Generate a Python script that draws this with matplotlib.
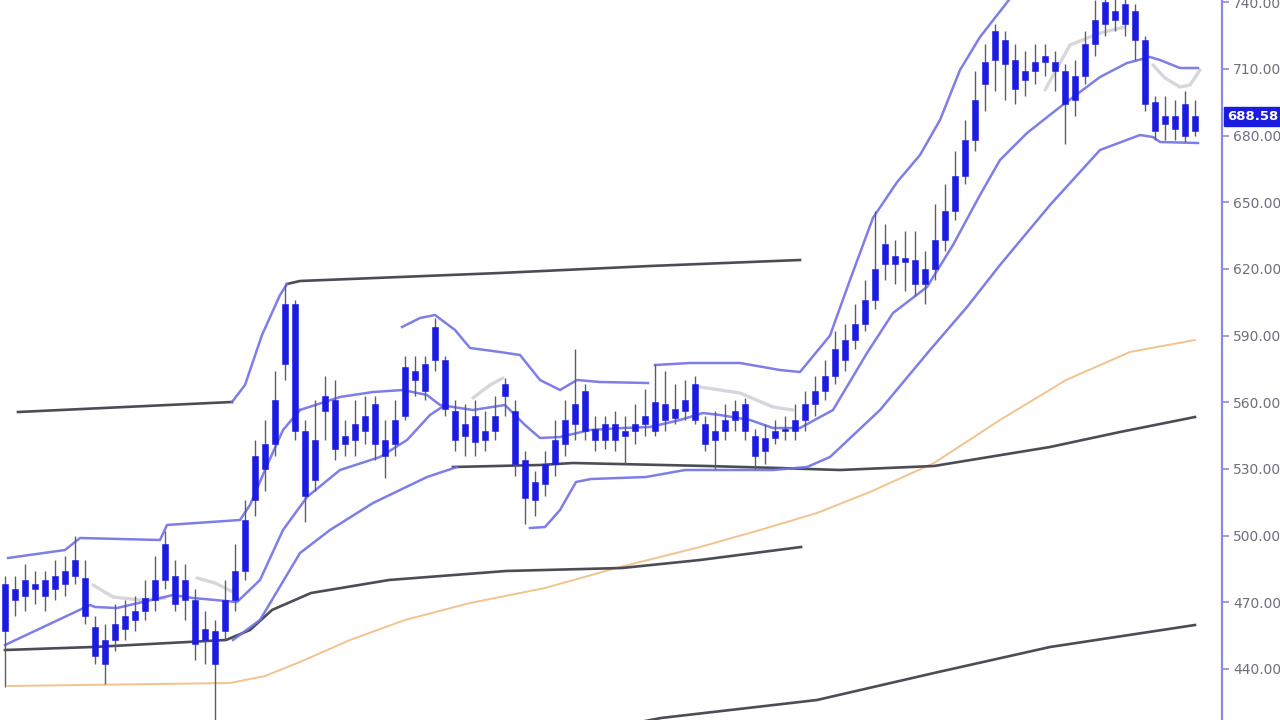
import matplotlib
matplotlib.use("Agg")
import matplotlib.pyplot as plt
from matplotlib.transforms import blended_transform_factory

# ---- candles (one per bar index) ----
opens = [478, 471, 473, 476, 473, 476, 478, 489, 481, 459,
         453, 453, 458, 462, 466, 471, 480, 482, 480, 471,
         453, 442, 457, 471, 484, 516, 530, 541, 577, 604,
         547, 525, 556, 561, 541, 543, 547, 559, 543, 541,
         554, 570, 577, 579, 579, 556, 545, 554, 543, 547,
         563, 556, 534, 516, 523, 532, 541, 550, 565, 548,
         543, 550, 545, 547, 550, 547, 559, 553, 556, 568,
         550, 543, 547, 552, 559, 545, 538, 544, 547, 547,
         552, 559, 565, 584, 579, 588, 595, 606, 631, 622,
         625, 624, 613, 620, 633, 646, 662, 678, 703, 714,
         723, 714, 705, 709, 716, 713, 709, 696, 707, 721,
         730, 736, 739, 736, 723, 695, 685, 689, 694, 682]
highs = [482, 482, 487, 484, 484, 489, 491, 500, 489, 464,
         460, 469, 471, 473, 480, 491, 502, 489, 487, 476,
         466, 462, 480, 496, 516, 543, 552, 574, 613, 606,
         552, 561, 572, 570, 552, 561, 563, 563, 552, 561,
         581, 581, 581, 598, 581, 561, 559, 561, 556, 563,
         571, 561, 538, 529, 538, 552, 561, 584, 568, 554,
         554, 556, 554, 559, 566, 577, 574, 568, 570, 572,
         554, 556, 559, 561, 562, 548, 550, 552, 554, 559,
         565, 572, 579, 592, 595, 604, 615, 646, 640, 633,
         637, 637, 628, 649, 658, 673, 687, 709, 721, 730,
         727, 721, 718, 721, 721, 718, 712, 714, 727, 741,
         745, 745, 743, 739, 725, 698, 698, 696, 700, 696]
lows = [432, 464, 466, 469, 466, 471, 473, 478, 460, 442,
        433, 448, 453, 457, 462, 466, 476, 466, 462, 444,
        442, 412, 453, 466, 480, 509, 520, 536, 570, 543,
        506, 520, 543, 534, 536, 536, 541, 534, 526, 536,
        552, 563, 561, 574, 554, 538, 536, 536, 538, 543,
        554, 527, 505, 509, 518, 527, 536, 543, 543, 538,
        539, 538, 532, 541, 545, 545, 547, 550, 552, 550,
        538, 530, 543, 547, 543, 530, 532, 541, 543, 543,
        547, 554, 561, 568, 574, 584, 592, 602, 615, 613,
        610, 608, 604, 615, 628, 642, 658, 673, 691, 700,
        696, 694, 698, 703, 707, 700, 676, 689, 703, 716,
        725, 727, 725, 714, 691, 678, 678, 678, 677, 680]
closes = [457, 476, 480, 478, 480, 482, 484, 482, 464, 446,
          442, 460, 464, 466, 472, 480, 496, 469, 471, 451,
          458, 457, 471, 484, 507, 536, 541, 561, 604, 547,
          518, 543, 563, 539, 545, 550, 554, 541, 536, 552,
          576, 574, 565, 594, 557, 543, 550, 542, 547, 554,
          568, 532, 517, 524, 532, 543, 552, 559, 547, 543,
          550, 543, 547, 550, 554, 560, 552, 557, 561, 552,
          541, 547, 552, 556, 547, 536, 544, 547, 548, 552,
          559, 565, 572, 572, 588, 595, 606, 620, 622, 626,
          623, 613, 620, 633, 646, 662, 678, 696, 713, 727,
          712, 701, 709, 713, 713, 709, 694, 707, 721, 732,
          740, 732, 730, 723, 694, 682, 689, 683, 680, 688.58]

# ---- overlay lines (bar index, price) ----
blue1_x = [0.3, 6, 7.5, 15.5, 16.2, 23.5, 24.5, 26, 27.8, 29.5]
blue1_y = [489.9, 493.5, 498.9, 498, 504.75, 507, 513.75, 529.5, 547.5, 556.5]
blue2_x = [22.7, 24, 25.7, 27.5, 28.2]
blue2_y = [560.1, 567.75, 590.25, 608.25, 613.2]
mid_x = [29.5, 33.5, 36.8, 39.8, 42.2, 43.5, 46.8, 50, 52, 53.5, 55.5, 58.5,
         61.8, 64.5, 67.5, 69.8, 71.5, 74.5, 76.8, 79.5, 82.8, 86.2, 88.8,
         92.2, 94.8, 97.5, 99.5, 102.2, 105.5, 109.5, 112.2, 114.5, 115.5,
         117.5, 119.3]
mid_y = [556.5, 562.35, 564.6, 565.5, 563.25, 558.75, 556.5, 558.75, 549.75,
         543.9, 544.35, 547.5, 548.4, 548.85, 552, 555.15, 554.25, 552, 548.4,
         548.4, 556.5, 582.15, 600.15, 611.85, 630.75, 653.25, 669, 681.15,
         692.85, 706.35, 712.65, 715.35, 714, 710.4, 710.4]
upper_a_x = [39.7, 41.5, 43, 45, 46.5, 49.5, 51.5, 53.5, 55.5, 57.2, 59.5, 64.3]
upper_a_y = [593.85, 597.9, 599.25, 592.5, 584.4, 582.6, 581.25, 570, 565.5,
             570, 569.1, 568.65]
upper_b_x = [65, 68.5, 73.5, 77.5, 79.5, 82.5, 84.5, 86.8, 89.2, 91.5, 93.5,
             95.5, 97.5, 100, 101]
upper_b_y = [576.75, 577.65, 577.65, 574.5, 573.6, 590.0, 615.0, 643.0, 659.0,
             671.25, 687, 709.5, 724.35, 738.75, 744.6]
blue5_x = [0, 8.5, 9, 11.2, 16.8, 18.8, 23.2, 25.5, 27.8, 30.2, 33.5, 37.5,
           40.2, 42.5, 44]
blue5_y = [450.75, 468.75, 467.85, 467.4, 473.25, 471.9, 470.1, 480, 502.5,
           517.35, 529.5, 535.35, 543, 554.25, 558.75]
blue6_x = [22.8, 25.5, 29.5, 32.5, 36.8, 42.2, 45.2]
blue6_y = [453, 462, 492.15, 502.5, 514.65, 526.35, 530.85]
lower_x = [52.5, 54, 55.5, 57.1, 58.6, 64.1, 68, 76.8, 80.2, 82.5, 87.5, 92.5,
           96.2, 99.5, 104.5, 109.5, 113.5, 114.8, 115.5, 119.3]
lower_y = [503.4, 503.85, 511.5, 524.1, 525.45, 526.35, 529.5, 529.5, 530.85,
           535.35, 556.5, 583.5, 602.85, 621.75, 648.75, 673.5, 680.25, 679.35,
           677.1, 676.65]

dark1a_x = [1.3, 22.7]
dark1a_y = [555.6, 560.1]
dark1b_x = [28.2, 29.5, 49.5, 64.5, 79.5]
dark1b_y = [613.2, 614.55, 618.15, 621.3, 624.0]
dark2_x = [0, 8.8, 22.1, 24.5, 26.7, 30.6, 38.4, 50.1, 61.7, 69.5, 79.6]
dark2_y = [448.5, 449.85, 453, 457.5, 466.5, 474.15, 480, 484.05, 485.4, 489,
           494.85]
dark3_x = [44.8, 53.5, 56.8, 70.2, 77.3, 83.5, 92.9, 104.5, 111.5, 119]
dark3_y = [530.85, 531.75, 532.65, 531.3, 530.4, 529.5, 531.3, 539.85, 546.6,
           553.35]
dark4_x = [63.5, 65.6, 81.2, 92.9, 104.5, 119]
dark4_y = [416.1, 417.9, 426, 438.15, 449.85, 459.75]

orange_x = [0.3, 22.5, 26, 29.5, 34.5, 40, 46.5, 54, 61.5, 69.5, 75.5, 81.2,
            86.5, 92.9, 99.5, 106.1, 112.5, 119]
orange_y = [432.3, 433.65, 436.8, 443.1, 453, 462, 469.65, 476.4, 485.85,
            494.85, 502.5, 510.15, 519.6, 532.65, 552, 570, 582.6, 588]

gray_segments = [
    ([8.8, 10.8, 13.5, 16], [477.75, 472.35, 471, 471.9]),
    ([19.2, 21, 22.8], [480.9, 478.65, 474.6]),
    ([46.8, 48.5, 49.8], [561.9, 567.75, 570.9]),
    ([69.5, 73.5, 76.8, 78.8], [566.85, 564.15, 557.85, 556.5]),
    ([104, 106.5, 109.5, 112], [700.5, 720.75, 726.15, 728.85]),
    ([114.8, 116, 117.5, 118.5, 119.5], [711.75, 705.9, 701.85, 702.75, 709.5]),
]

price_ticks = [740, 710, 680, 650, 620, 590, 560, 530, 500, 470, 440]
last_price = 688.58

fig = plt.figure(figsize=(12.8, 7.2), dpi=100)
ax = fig.add_axes([0, 0, 1222 / 1280, 1])

blue = '#7070e6'
dark = '#4c4c56'

# overlays first, candles on top
for xs, ys in gray_segments:
    ax.plot(xs, ys, color='#d6d6dc', lw=2.4, solid_capstyle='round', zorder=1)
ax.plot(orange_x, orange_y, color='#f2c38e', lw=1.4, zorder=1)
for xs, ys in [(dark1a_x, dark1a_y), (dark1b_x, dark1b_y), (dark2_x, dark2_y),
               (dark3_x, dark3_y), (dark4_x, dark4_y)]:
    ax.plot(xs, ys, color=dark, lw=1.9, zorder=2)
for xs, ys in [(blue1_x, blue1_y), (blue2_x, blue2_y), (mid_x, mid_y),
               (upper_a_x, upper_a_y), (upper_b_x, upper_b_y),
               (blue5_x, blue5_y), (blue6_x, blue6_y), (lower_x, lower_y)]:
    ax.plot(xs, ys, color=blue, lw=1.8, alpha=0.9, zorder=2)

idx = list(range(len(closes)))
ax.vlines(idx, lows, highs, color='#5c5c70', lw=1.0, zorder=3)
bottoms = [min(o, c) for o, c in zip(opens, closes)]
heights = [max(abs(c - o), 0.6) for o, c in zip(opens, closes)]
ax.bar(idx, heights, bottom=bottoms, width=0.55, color='#1c1ce0',
       edgecolor='#1c1ce0', lw=0.4, zorder=4)

ax.set_xlim(-0.5, 121.7)
ax.set_ylim(417, 741)

for s in ['left', 'top', 'bottom']:
    ax.spines[s].set_visible(False)
ax.spines['right'].set_color('#8a8ae4')
ax.spines['right'].set_linewidth(1.6)
ax.set_xticks([])
ax.yaxis.tick_right()
ax.set_yticks(price_ticks)
ax.set_yticklabels([f'{v:.2f}' for v in price_ticks])
ax.tick_params(axis='y', colors='#8a8ae4', labelcolor='#6e6e80',
               labelsize=10, length=5, width=1.2, pad=3)

trans = blended_transform_factory(ax.transAxes, ax.transData)
ax.text(1.004, last_price, f'{last_price:.2f}', transform=trans,
        ha='left', va='center', color='white', fontsize=9.5, fontweight='bold',
        bbox=dict(boxstyle='square,pad=0.25', fc='#1c1ce0', ec='#1c1ce0'),
        zorder=10, clip_on=False)

fig.savefig('out.png', dpi=100)
